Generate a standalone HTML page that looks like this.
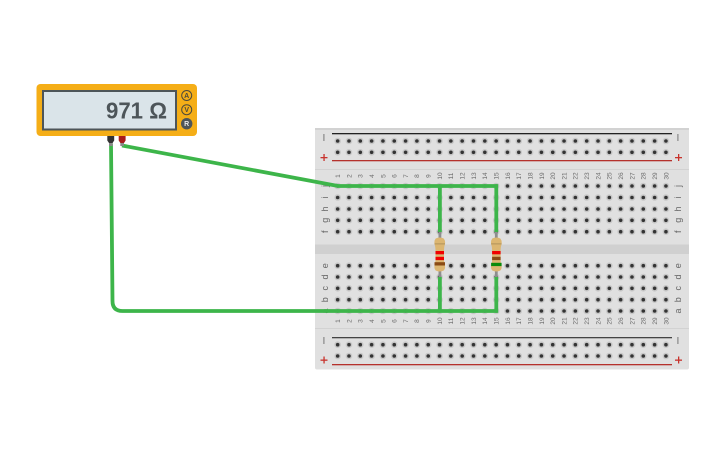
<!DOCTYPE html>
<html>
<head>
<meta charset="utf-8">
<style>
html,body{margin:0;padding:0;background:#fff;width:725px;height:453px;overflow:hidden}
svg{display:block;filter:blur(0.25px)}
text{font-family:"Liberation Sans",sans-serif}
.n{font-size:6.5px;fill:#6a6a6a;text-anchor:middle}
.l{font-size:9px;fill:#666;text-anchor:middle}
</style>
</head>
<body>
<svg width="725" height="453" viewBox="0 0 725 453" xmlns="http://www.w3.org/2000/svg">
<defs>
<pattern id="h" patternUnits="userSpaceOnUse" x="332" y="0" width="11.32" height="453">
<circle cx="5.66" cy="141" r="3.3" fill="#c8c8c8"/><circle cx="5.66" cy="141" r="1.8" fill="#333"/>
<circle cx="5.66" cy="152.3" r="3.3" fill="#c8c8c8"/><circle cx="5.66" cy="152.3" r="1.8" fill="#333"/>
<circle cx="5.66" cy="186" r="3.3" fill="#c8c8c8"/><circle cx="5.66" cy="186" r="1.8" fill="#333"/>
<circle cx="5.66" cy="197.5" r="3.3" fill="#c8c8c8"/><circle cx="5.66" cy="197.5" r="1.8" fill="#333"/>
<circle cx="5.66" cy="209" r="3.3" fill="#c8c8c8"/><circle cx="5.66" cy="209" r="1.8" fill="#333"/>
<circle cx="5.66" cy="220.3" r="3.3" fill="#c8c8c8"/><circle cx="5.66" cy="220.3" r="1.8" fill="#333"/>
<circle cx="5.66" cy="231.7" r="3.3" fill="#c8c8c8"/><circle cx="5.66" cy="231.7" r="1.8" fill="#333"/>
<circle cx="5.66" cy="265.7" r="3.3" fill="#c8c8c8"/><circle cx="5.66" cy="265.7" r="1.8" fill="#333"/>
<circle cx="5.66" cy="277" r="3.3" fill="#c8c8c8"/><circle cx="5.66" cy="277" r="1.8" fill="#333"/>
<circle cx="5.66" cy="288.3" r="3.3" fill="#c8c8c8"/><circle cx="5.66" cy="288.3" r="1.8" fill="#333"/>
<circle cx="5.66" cy="299.7" r="3.3" fill="#c8c8c8"/><circle cx="5.66" cy="299.7" r="1.8" fill="#333"/>
<circle cx="5.66" cy="311" r="3.3" fill="#c8c8c8"/><circle cx="5.66" cy="311" r="1.8" fill="#333"/>
<circle cx="5.66" cy="344.7" r="3.3" fill="#c8c8c8"/><circle cx="5.66" cy="344.7" r="1.8" fill="#333"/>
<circle cx="5.66" cy="356" r="3.3" fill="#c8c8c8"/><circle cx="5.66" cy="356" r="1.8" fill="#333"/>
</pattern>
</defs>

<!-- breadboard -->
<rect x="315" y="128" width="374" height="241.500" rx="2" fill="#e0e0e0"/>
<rect x="315" y="128" width="374" height="2" fill="#d2d2d2"/>
<rect x="315" y="244.500" width="374" height="9.500" fill="#d0d0d0"/>
<rect x="315" y="169" width="374" height="1" fill="#d2d2d2"/>
<rect x="315" y="328" width="374" height="1" fill="#d2d2d2"/>
<rect x="332" y="133" width="340" height="1.300" fill="#222"/>
<rect x="332" y="160" width="340" height="1.300" fill="#b5312c"/>
<rect x="332" y="337" width="340" height="1.300" fill="#444"/>
<rect x="332" y="364" width="340" height="1.300" fill="#b5312c"/>
<rect x="332" y="136" width="340" height="224" fill="url(#h)"/>

<!-- rail signs -->
<g fill="#888">
<rect x="323.300" y="134" width="1.200" height="7"/><rect x="677.300" y="134" width="1.200" height="7"/>
<rect x="323.300" y="337" width="1.200" height="7"/><rect x="677.300" y="337" width="1.200" height="7"/>
</g>
<g fill="#c8322c">
<rect x="320.500" y="157" width="7" height="1.300"/><rect x="323.400" y="154" width="1.300" height="7"/>
<rect x="675" y="157" width="7" height="1.300"/><rect x="678" y="154" width="1.300" height="7"/>
<rect x="320.500" y="359.500" width="7" height="1.300"/><rect x="323.400" y="356.500" width="1.300" height="7"/>
<rect x="675" y="359.500" width="7" height="1.300"/><rect x="678" y="356.500" width="1.300" height="7"/>
</g>

<!-- top numbers -->
<g class="n">
<text class="n" transform="translate(340,176) rotate(-90)">1</text>
<text class="n" transform="translate(351.300,176) rotate(-90)">2</text>
<text class="n" transform="translate(362.600,176) rotate(-90)">3</text>
<text class="n" transform="translate(374,176) rotate(-90)">4</text>
<text class="n" transform="translate(385.300,176) rotate(-90)">5</text>
<text class="n" transform="translate(396.600,176) rotate(-90)">6</text>
<text class="n" transform="translate(407.900,176) rotate(-90)">7</text>
<text class="n" transform="translate(419.200,176) rotate(-90)">8</text>
<text class="n" transform="translate(430.600,176) rotate(-90)">9</text>
<text class="n" transform="translate(441.900,176) rotate(-90)">10</text>
<text class="n" transform="translate(453.200,176) rotate(-90)">11</text>
<text class="n" transform="translate(464.500,176) rotate(-90)">12</text>
<text class="n" transform="translate(475.800,176) rotate(-90)">13</text>
<text class="n" transform="translate(487.200,176) rotate(-90)">14</text>
<text class="n" transform="translate(498.500,176) rotate(-90)">15</text>
<text class="n" transform="translate(509.800,176) rotate(-90)">16</text>
<text class="n" transform="translate(521.100,176) rotate(-90)">17</text>
<text class="n" transform="translate(532.400,176) rotate(-90)">18</text>
<text class="n" transform="translate(543.800,176) rotate(-90)">19</text>
<text class="n" transform="translate(555.100,176) rotate(-90)">20</text>
<text class="n" transform="translate(566.400,176) rotate(-90)">21</text>
<text class="n" transform="translate(577.700,176) rotate(-90)">22</text>
<text class="n" transform="translate(589,176) rotate(-90)">23</text>
<text class="n" transform="translate(600.400,176) rotate(-90)">24</text>
<text class="n" transform="translate(611.700,176) rotate(-90)">25</text>
<text class="n" transform="translate(623,176) rotate(-90)">26</text>
<text class="n" transform="translate(634.300,176) rotate(-90)">27</text>
<text class="n" transform="translate(645.600,176) rotate(-90)">28</text>
<text class="n" transform="translate(657,176) rotate(-90)">29</text>
<text class="n" transform="translate(668.300,176) rotate(-90)">30</text>
</g>
<!-- bottom numbers -->
<g class="n">
<text class="n" transform="translate(340,321) rotate(-90)">1</text>
<text class="n" transform="translate(351.300,321) rotate(-90)">2</text>
<text class="n" transform="translate(362.600,321) rotate(-90)">3</text>
<text class="n" transform="translate(374,321) rotate(-90)">4</text>
<text class="n" transform="translate(385.300,321) rotate(-90)">5</text>
<text class="n" transform="translate(396.600,321) rotate(-90)">6</text>
<text class="n" transform="translate(407.900,321) rotate(-90)">7</text>
<text class="n" transform="translate(419.200,321) rotate(-90)">8</text>
<text class="n" transform="translate(430.600,321) rotate(-90)">9</text>
<text class="n" transform="translate(441.900,321) rotate(-90)">10</text>
<text class="n" transform="translate(453.200,321) rotate(-90)">11</text>
<text class="n" transform="translate(464.500,321) rotate(-90)">12</text>
<text class="n" transform="translate(475.800,321) rotate(-90)">13</text>
<text class="n" transform="translate(487.200,321) rotate(-90)">14</text>
<text class="n" transform="translate(498.500,321) rotate(-90)">15</text>
<text class="n" transform="translate(509.800,321) rotate(-90)">16</text>
<text class="n" transform="translate(521.100,321) rotate(-90)">17</text>
<text class="n" transform="translate(532.400,321) rotate(-90)">18</text>
<text class="n" transform="translate(543.800,321) rotate(-90)">19</text>
<text class="n" transform="translate(555.100,321) rotate(-90)">20</text>
<text class="n" transform="translate(566.400,321) rotate(-90)">21</text>
<text class="n" transform="translate(577.700,321) rotate(-90)">22</text>
<text class="n" transform="translate(589,321) rotate(-90)">23</text>
<text class="n" transform="translate(600.400,321) rotate(-90)">24</text>
<text class="n" transform="translate(611.700,321) rotate(-90)">25</text>
<text class="n" transform="translate(623,321) rotate(-90)">26</text>
<text class="n" transform="translate(634.300,321) rotate(-90)">27</text>
<text class="n" transform="translate(645.600,321) rotate(-90)">28</text>
<text class="n" transform="translate(657,321) rotate(-90)">29</text>
<text class="n" transform="translate(668.300,321) rotate(-90)">30</text>
</g>
<!-- letters -->
<g>
<text class="l" transform="translate(328,186) rotate(-90)">j</text>
<text class="l" transform="translate(328,197.500) rotate(-90)">i</text>
<text class="l" transform="translate(328,209) rotate(-90)">h</text>
<text class="l" transform="translate(328,220.300) rotate(-90)">g</text>
<text class="l" transform="translate(328,231.700) rotate(-90)">f</text>
<text class="l" transform="translate(328,265.700) rotate(-90)">e</text>
<text class="l" transform="translate(328,277) rotate(-90)">d</text>
<text class="l" transform="translate(328,288.300) rotate(-90)">c</text>
<text class="l" transform="translate(328,299.700) rotate(-90)">b</text>
<text class="l" transform="translate(328,311) rotate(-90)">a</text>
<text class="l" transform="translate(681,186) rotate(-90)">j</text>
<text class="l" transform="translate(681,197.500) rotate(-90)">i</text>
<text class="l" transform="translate(681,209) rotate(-90)">h</text>
<text class="l" transform="translate(681,220.300) rotate(-90)">g</text>
<text class="l" transform="translate(681,231.700) rotate(-90)">f</text>
<text class="l" transform="translate(681,265.700) rotate(-90)">e</text>
<text class="l" transform="translate(681,277) rotate(-90)">d</text>
<text class="l" transform="translate(681,288.300) rotate(-90)">c</text>
<text class="l" transform="translate(681,299.700) rotate(-90)">b</text>
<text class="l" transform="translate(681,311) rotate(-90)">a</text>
</g>

<!-- wires -->
<g fill="none" stroke="#3db54a" stroke-width="3.800">
<path d="M122 145.500 L338 186 L496.300 186 L496.300 232"/>
<path d="M439.900 186 L439.900 232"/>
<path d="M111 144 L112.500 301 Q112.500 311 122.500 311 L496.300 311 L496.300 277"/>
<path d="M439.900 311 L439.900 277"/>
</g>

<!-- resistor 1 -->
<g>
<rect x="438.500" y="232" width="2.800" height="45" fill="#8e8e8e"/>
<path d="M435.700 238.500 Q439.700 236.500 443.700 238.500 Q445.500 240.500 445 244 Q444 247 444 250 L444 260 Q444 263 445 266 Q445.500 269 443.700 270.500 Q439.700 272.500 435.700 270.500 Q434 269 434.500 266 Q435.500 263 435.500 260 L435.500 250 Q435.500 247 434.500 244 Q434 240.500 435.700 238.500 Z" fill="#dcb671"/>
<rect x="434.500" y="243.500" width="10.500" height="0.800" fill="#a68a55"/>
<rect x="435.500" y="251" width="8.500" height="3.300" fill="#f00000"/>
<rect x="435.500" y="256.800" width="8.500" height="3.300" fill="#f00000"/>
<rect x="434.500" y="262.200" width="10.500" height="3.300" fill="#8a4b14"/>
</g>
<!-- resistor 2 -->
<g>
<rect x="494.900" y="232" width="2.800" height="45" fill="#8e8e8e"/>
<path d="M492.300 238.500 Q496.300 236.500 500.300 238.500 Q502.100 240.500 501.600 244 Q500.600 247 500.600 250 L500.600 260 Q500.600 263 501.600 266 Q502.100 269 500.300 270.500 Q496.300 272.500 492.300 270.500 Q490.600 269 491.100 266 Q492.100 263 492.100 260 L492.100 250 Q492.100 247 491.100 244 Q490.600 240.500 492.300 238.500 Z" fill="#dcb671"/>
<rect x="491.100" y="243.500" width="10.500" height="0.800" fill="#a68a55"/>
<rect x="492.100" y="251" width="8.500" height="3.300" fill="#f00000"/>
<rect x="492.100" y="256.800" width="8.500" height="3.300" fill="#8a4b14"/>
<rect x="491.100" y="262.800" width="10.500" height="3.300" fill="#0b8a0b"/>
</g>

<!-- multimeter -->
<rect x="36.500" y="84" width="160.500" height="52" rx="4" fill="#f5ae17"/>
<rect x="43" y="91" width="133" height="38.500" fill="#dae4e9" stroke="#4d5559" stroke-width="2"/>
<text x="106" y="118.500" textLength="61" lengthAdjust="spacingAndGlyphs" font-size="23.500" font-weight="bold" fill="#4d5559">971 Ω</text>
<g fill="none" stroke="#4d4a3c" stroke-width="1">
<circle cx="186.700" cy="95.500" r="5"/>
<circle cx="186.700" cy="109.700" r="5"/>
</g>
<circle cx="186.700" cy="123.700" r="5.700" fill="#4d5559"/>
<g text-anchor="middle" font-size="7" font-weight="bold">
<text x="186.700" y="98" fill="#4d4a3c">A</text>
<text x="186.700" y="112.200" fill="#4d4a3c">V</text>
<text x="186.700" y="126.200" fill="#e8e8e8">R</text>
</g>
<!-- probes -->
<path d="M109 141 H112.800 V146 H109 Z" fill="#888"/>
<path d="M120.300 141 H124 V146 H120.300 Z" fill="#888"/>
<path d="M107.300 136 H114.200 V140.500 L112.500 143 H109 L107.300 140.500 Z" fill="#333"/>
<path d="M118.700 136 H125.600 V140.500 L124 143 H120.400 L118.700 140.500 Z" fill="#a81c1c"/>
</svg>
</body>
</html>
